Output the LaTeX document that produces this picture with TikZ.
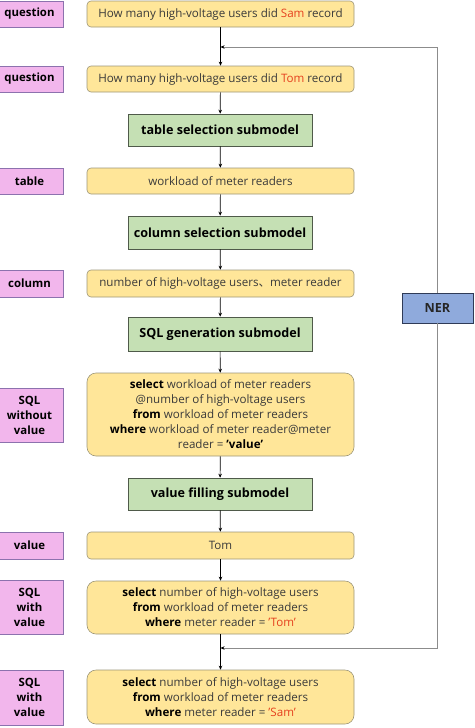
\documentclass[tikz,border=0pt]{standalone}
\usepackage{fontspec}
\setmainfont{Open Sans}
\newfontfamily\cjk{Noto Sans CJK SC}
\usetikzlibrary{arrows.meta}
\definecolor{yfill}{HTML}{FFE699}
\definecolor{ybd}{HTML}{9C9679}
\definecolor{gfill}{HTML}{C5E0B4}
\definecolor{gbd}{HTML}{4F5A4A}
\definecolor{pfill}{HTML}{F2B6EC}
\definecolor{pbd}{HTML}{8C72AE}
\definecolor{nfill}{HTML}{8FAADC}
\definecolor{nbd}{HTML}{2F3B57}
\definecolor{txt}{HTML}{3A3A3A}
\definecolor{redt}{HTML}{E5401E}
\definecolor{nline}{HTML}{8C8C8C}
\newcommand{\fsz}[1]{\fontsize{#1}{15}\selectfont}
\newcommand{\rd}[1]{\textcolor{redt}{#1}}
\tikzset{
  ybox/.style={draw=ybd, fill=yfill, rounded corners=4pt, minimum width=267pt, inner sep=0pt, align=center, text=txt, font=\fsz{11.6}, line width=0.6pt},
  ybig/.style={ybox, rounded corners=9pt},
  gbox/.style={draw=gbd, fill=gfill, minimum width=184pt, inner sep=0pt, align=center, font=\fsz{12.6}\bfseries, text=black, line width=0.6pt},
  pbox/.style={draw=pbd, fill=pfill, minimum width=67pt, inner sep=0pt, align=center, font=\fsz{11.4}\bfseries, text=black, line width=0.6pt},
  nbox/.style={draw=nbd, fill=nfill, minimum width=71pt, minimum height=30pt, inner sep=0pt, font=\fsz{12.6}\bfseries, text=black!85, line width=0.6pt},
  arr/.style={draw=black, line width=0.7pt, -{Stealth[length=4pt,width=3.5pt]}},
  narr/.style={draw=nline, line width=0.8pt, -{Stealth[length=4pt,width=3.5pt,fill=black,color=black]}},
}
\begin{document}
\begin{tikzpicture}[x=1pt,y=-1pt]
\useasboundingbox (0,0) rectangle (474,728);
% main column
\node[ybox, minimum height=26pt] (q1) at (220.5,14) {How many high-voltage users did \rd{Sam} record};
\node[ybox, minimum height=26pt] (q2) at (220.5,79) {How many high-voltage users did \rd{Tom} record};
\node[gbox, minimum height=32pt] (tsel) at (220,130) {table selection submodel};
\node[ybox, minimum height=26pt] (tab) at (220.5,181) {workload of meter readers};
\node[gbox, minimum height=33pt] (csel) at (220,232.5) {column selection submodel};
\node[ybox, minimum height=27pt] (col) at (220.5,283.5) {number of high-voltage users{\cjk 、}meter reader};
\node[gbox, minimum height=34pt] (sgen) at (220,334) {SQL generation submodel};
\node[ybig, minimum height=83pt] (swo) at (220.5,414.5) {\textcolor{black}{\textbf{select}} workload of meter readers\\@number of high-voltage users\\\textcolor{black}{\textbf{from}} workload of meter readers\\\textcolor{black}{\textbf{where}} workload of meter reader@meter\\reader = \textcolor{black}{\textbf{'value'}}};
\node[gbox, minimum height=32pt] (vfill) at (220,494) {value filling submodel};
\node[ybox, minimum height=27pt] (val) at (220.5,545.5) {Tom};
\node[ybig, minimum height=53pt] (sw) at (220.5,607.5) {\textcolor{black}{\textbf{select}} number of high-voltage users\\\textcolor{black}{\textbf{from}} workload of meter readers\\\textcolor{black}{\textbf{where}} meter reader = \rd{'Tom'}};
\node[ybig, minimum height=54pt] (last) at (220.5,697) {\textcolor{black}{\textbf{select}} number of high-voltage users\\\textcolor{black}{\textbf{from}} workload of meter readers\\\textcolor{black}{\textbf{where}} meter reader = \rd{'Sam'}};
% labels
\node[pbox, minimum height=26pt] (l1) at (29.5,14) {question};
\node[pbox, minimum height=26pt] (l2) at (29.5,79) {question};
\node[pbox, minimum height=26pt] (l3) at (29.5,181) {table};
\node[pbox, minimum height=27pt] (l4) at (29.5,283.5) {column};
\node[pbox, minimum height=54pt] (l5) at (29.5,415) {SQL\\without\\value};
\node[pbox, minimum height=27pt] (l6) at (29.5,545.5) {value};
\node[pbox, minimum height=54pt] (l7) at (29.5,607) {SQL\\with\\value};
\node[pbox, minimum height=55pt] (l8) at (29.5,697.5) {SQL\\with\\value};
% NER
\node[nbox] (ner) at (437.5,308) {NER};
\coordinate (jt) at (220.5,47);
\coordinate (jb) at (220.5,648);
% arrows
\draw[arr] (q1) -- (q2);
\draw[arr] (q2) -- (tsel);
\draw[arr] (tsel) -- (tab);
\draw[arr] (tab) -- (csel);
\draw[arr] (csel) -- (col);
\draw[arr] (col) -- (sgen);
\draw[arr] (sgen) -- (swo);
\draw[arr] (swo) -- (vfill);
\draw[arr] (vfill) -- (val);
\draw[arr] (val) -- (sw);
\draw[arr] (sw) -- (last);
\draw[narr] (ner.north) |- (jt);
\draw[narr] (ner.south) |- (jb);
\end{tikzpicture}
\end{document}
